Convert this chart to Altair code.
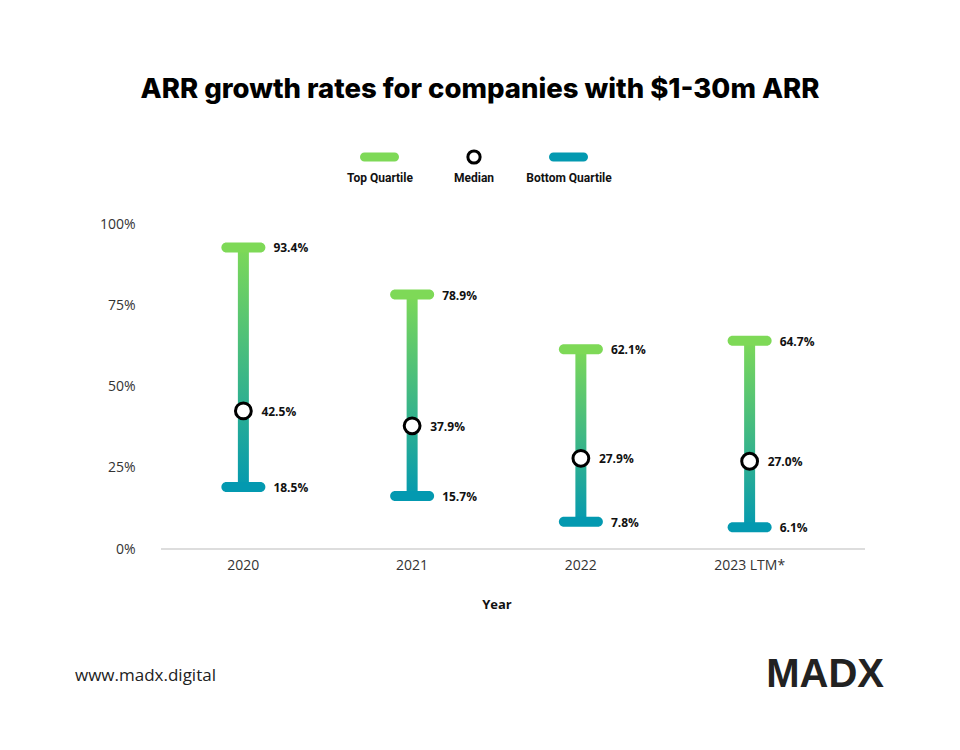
import altair as alt
import pandas as pd

# ---- data ----
years = ["2020", "2021", "2022", "2023 LTM*"]
top_quartile = [93.4, 78.9, 62.1, 64.7]
median = [42.5, 37.9, 27.9, 27.0]
bottom_quartile = [18.5, 15.7, 7.8, 6.1]
y_ticks = [0, 25, 50, 75, 100]
legend_labels = ["Top Quartile", "Median", "Bottom Quartile"]
title_text = ["ARR growth rates for companies with $1-30m ARR"]
footer_url = ["www.madx.digital"]
footer_logo = ["MADX"]

GREEN = "#7ED957"
TEAL = "#0399B0"
FONT = "Open Sans"

df = pd.DataFrame({
    "year": years,
    "top": top_quartile,
    "median": median,
    "bottom": bottom_quartile,
})
df["top_label"] = [f"{v:.1f}%" for v in top_quartile]
df["median_label"] = [f"{v:.1f}%" for v in median]
df["bottom_label"] = [f"{v:.1f}%" for v in bottom_quartile]

W, H = 675, 325

x_enc = alt.X(
    "year:N", sort=years,
    scale=alt.Scale(paddingInner=0, paddingOuter=0),
    axis=alt.Axis(
        title="Year", labelAngle=0, domain=False, ticks=False, grid=False,
        labelFont=FONT, labelFontSize=14, labelColor="#333", labelPadding=9,
        titleFont=FONT, titleFontWeight="bold", titleFontSize=13, titleColor="#111",
        titlePadding=26,
    ),
)
y_scale = alt.Scale(domain=[0, 100])

base = alt.Chart(df)

bars = base.mark_bar(
    size=11,
    color=alt.Gradient(
        gradient="linear",
        stops=[alt.GradientStop(color=GREEN, offset=0), alt.GradientStop(color=TEAL, offset=1)],
        x1=0, x2=0, y1=0, y2=1,
    ),
).encode(
    x=x_enc,
    y=alt.Y("bottom:Q", scale=y_scale, axis=alt.Axis(
        values=y_ticks, labelExpr="datum.value + '%'", domain=False, ticks=False,
        grid=False, title=None, labelPadding=24, labelFont=FONT, labelFontSize=14,
        labelColor="#333")),
    y2="top:Q",
)

top_caps = base.mark_tick(thickness=10, size=44, cornerRadius=5, color=GREEN, opacity=1, yOffset=2).encode(
    x=alt.X("year:N", sort=years), y=alt.Y("top:Q", scale=y_scale))
bottom_caps = base.mark_tick(thickness=10, size=44, cornerRadius=5, color=TEAL, opacity=1, yOffset=-2).encode(
    x=alt.X("year:N", sort=years), y=alt.Y("bottom:Q", scale=y_scale))

med_pts = base.mark_point(shape="circle", filled=True, fill="white", stroke="black",
                          strokeWidth=3, size=250, opacity=1).encode(
    x=alt.X("year:N", sort=years), y=alt.Y("median:Q", scale=y_scale))

lbl_style = dict(align="left", baseline="middle", font=FONT, fontWeight="bold", fontSize=12, color="#111")
top_lbl = base.mark_text(dx=30, dy=3, **lbl_style).encode(
    x=alt.X("year:N", sort=years), y=alt.Y("top:Q", scale=y_scale), text="top_label:N")
bot_lbl = base.mark_text(dx=30, dy=-1, **lbl_style).encode(
    x=alt.X("year:N", sort=years), y=alt.Y("bottom:Q", scale=y_scale), text="bottom_label:N")
med_lbl = base.mark_text(dx=18, dy=1, **lbl_style).encode(
    x=alt.X("year:N", sort=years), y=alt.Y("median:Q", scale=y_scale), text="median_label:N")

# baseline
one = pd.DataFrame({"k": [0]})
baseline = alt.Chart(one).mark_rule(color="#DDDDDD", strokeWidth=2).encode(
    x=alt.value(2), x2=alt.value(706), y=alt.value(H))

# title
title = alt.Chart(pd.DataFrame({"t": title_text})).mark_text(
    font="Inter", fontWeight=800, fontSize=27.5, color="#000", align="center", baseline="middle"
).encode(x=alt.value(321), y=alt.value(-134), text="t:N")

# legend
leg_green = alt.Chart(one).mark_rect(color=GREEN, cornerRadius=4.5).encode(
    x=alt.value(201), x2=alt.value(240), y=alt.value(-71.5), y2=alt.value(-62.5))
leg_teal = alt.Chart(one).mark_rect(color=TEAL, cornerRadius=4.5).encode(
    x=alt.value(390), x2=alt.value(429), y=alt.value(-71.5), y2=alt.value(-62.5))
leg_circle = alt.Chart(one).mark_point(shape="circle", filled=True, fill="white", stroke="black",
                                       strokeWidth=3, size=150, opacity=1).encode(
    x=alt.value(315), y=alt.value(-67))
leg_df = pd.DataFrame({"label": legend_labels, "px": [221, 315, 410]})
leg_text = alt.Chart(leg_df).mark_text(
    font="Roboto", fontWeight="bold", fontSize=12, color="#111", align="center", baseline="middle"
).encode(x=alt.X("px:Q", scale=None), y=alt.value(-46), text="label:N")

# footer
url = alt.Chart(pd.DataFrame({"t": footer_url})).mark_text(
    font=FONT, fontSize=17, color="#222", align="left", baseline="middle"
).encode(x=alt.value(-84), y=alt.value(452), text="t:N")
logo = alt.Chart(pd.DataFrame({"t": footer_logo})).mark_text(
    font="Liberation Sans", fontWeight="bold", fontSize=40, color="#222", align="right", baseline="middle"
).encode(x=alt.value(725), y=alt.value(451), text="t:N")

chart = alt.layer(
    baseline, bars, top_caps, bottom_caps, med_pts, top_lbl, bot_lbl, med_lbl,
    title, leg_green, leg_teal, leg_circle, leg_text, url, logo,
).properties(
    width=W, height=H,
    autosize=alt.AutoSizeParams(type="none"),
    padding={"left": 151, "top": 216, "right": 110, "bottom": 185},
    background="white",
).configure_view(stroke=None)

chart.save("out.html", embed_options={"renderer": "svg", "actions": False})
